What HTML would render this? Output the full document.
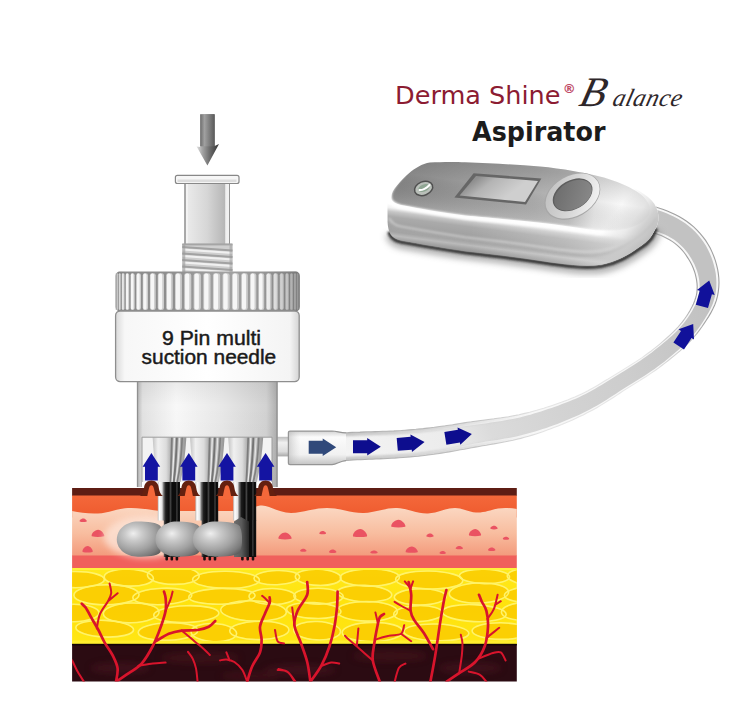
<!DOCTYPE html>
<html><head><meta charset="utf-8"><title>Derma Shine Balance Aspirator</title>
<style>
html,body{margin:0;padding:0;background:#fff;}
body{width:750px;height:722px;overflow:hidden;position:relative;}
svg{display:block;position:absolute;left:0;top:0;}
.t{font-family:"Liberation Sans",sans-serif;}
#bal{position:absolute;left:577.6px;top:66.6px;margin:0;font:italic 25px/50px "Liberation Serif",serif;color:#2e272a;white-space:nowrap;letter-spacing:0.45px;transform-origin:0 38px;transform:skewX(-14deg);z-index:2;}
#bal::first-letter{font-size:42px;letter-spacing:8px;}
</style></head><body>
<svg width="750" height="722" viewBox="0 0 750 722">
<defs>
<linearGradient id="gDermis" x1="0" y1="0" x2="0" y2="1"><stop offset="0" stop-color="#fbd9c4"/><stop offset="0.55" stop-color="#f8bd9f"/><stop offset="1" stop-color="#f39a7c"/></linearGradient>
<linearGradient id="gOrange" x1="0" y1="0" x2="0" y2="1"><stop offset="0" stop-color="#f4683a"/><stop offset="1" stop-color="#ee5a2e"/></linearGradient>
<linearGradient id="gYellow" x1="0" y1="0" x2="0" y2="1"><stop offset="0" stop-color="#ffe91c"/><stop offset="0.5" stop-color="#ffe20c"/><stop offset="1" stop-color="#ffe614"/></linearGradient>
<clipPath id="cSkin"><rect x="72.1" y="488" width="444.7" height="193.4"/></clipPath>
<clipPath id="cFat"><rect x="72" y="568" width="445" height="73"/></clipPath>
<linearGradient id="gArrowDn" x1="0" y1="0" x2="1" y2="0"><stop offset="0" stop-color="#e2e2e2"/><stop offset="0.25" stop-color="#a6a6a6"/><stop offset="0.6" stop-color="#6a6a6a"/><stop offset="1" stop-color="#363636"/></linearGradient>
<linearGradient id="gArrowSh" x1="0" y1="0" x2="1" y2="0"><stop offset="0" stop-color="#6e6e6e"/><stop offset="0.3" stop-color="#a0a0a0"/><stop offset="1" stop-color="#5a5a5a"/></linearGradient>
<linearGradient id="gNeck" x1="0" y1="0" x2="1" y2="0"><stop offset="0" stop-color="#959595"/><stop offset="0.028" stop-color="#959595"/><stop offset="0.03" stop-color="#f4f4f4"/><stop offset="0.075" stop-color="#f2f2f2"/><stop offset="0.09" stop-color="#e9e9e9"/><stop offset="0.5" stop-color="#d6d6d6"/><stop offset="0.89" stop-color="#b6b6b6"/><stop offset="0.905" stop-color="#efefef"/><stop offset="0.968" stop-color="#f2f2f2"/><stop offset="0.972" stop-color="#959595"/><stop offset="1" stop-color="#959595"/></linearGradient>
<linearGradient id="gBody" x1="0" y1="0" x2="1" y2="0"><stop offset="0" stop-color="#b6b6b6"/><stop offset="0.04" stop-color="#e2e2e2"/><stop offset="0.28" stop-color="#f8f8f8"/><stop offset="0.6" stop-color="#e8e8e8"/><stop offset="0.92" stop-color="#d2d2d2"/><stop offset="1" stop-color="#adadad"/></linearGradient>
<linearGradient id="gBodyV" x1="0" y1="0" x2="0" y2="1"><stop offset="0" stop-color="#000" stop-opacity="0.06"/><stop offset="0.25" stop-color="#000" stop-opacity="0"/><stop offset="1" stop-color="#000" stop-opacity="0.03"/></linearGradient>
<linearGradient id="gLabel" x1="0" y1="0" x2="1" y2="0"><stop offset="0" stop-color="#d9d9d9"/><stop offset="0.05" stop-color="#f7f7f7"/><stop offset="0.5" stop-color="#ffffff"/><stop offset="0.95" stop-color="#f4f4f4"/><stop offset="1" stop-color="#d4d4d4"/></linearGradient>
<linearGradient id="gKnurl" x1="0" y1="0" x2="1" y2="0"><stop offset="0" stop-color="#8a8a8a"/><stop offset="0.3" stop-color="#8f8f8f"/><stop offset="0.6" stop-color="#a2a2a2"/><stop offset="1" stop-color="#8a8a8a"/></linearGradient>
<linearGradient id="gSleeve" x1="0" y1="0" x2="1" y2="0"><stop offset="0" stop-color="#c4c4c4"/><stop offset="0.16" stop-color="#f0f0f0"/><stop offset="0.4" stop-color="#dcdcdc"/><stop offset="0.55" stop-color="#adadad"/><stop offset="0.75" stop-color="#bebebe"/><stop offset="1" stop-color="#949494"/></linearGradient>
<linearGradient id="gPin" x1="0" y1="0" x2="1" y2="0"><stop offset="0" stop-color="#b8b8b8"/><stop offset="0.07" stop-color="#ffffff"/><stop offset="0.19" stop-color="#e4e4e4"/><stop offset="0.27" stop-color="#6a6a6a"/><stop offset="0.36" stop-color="#1c1c1c"/><stop offset="0.5" stop-color="#0c0c0c"/><stop offset="0.58" stop-color="#444444"/><stop offset="0.64" stop-color="#0c0c0c"/><stop offset="0.8" stop-color="#0c0c0c"/><stop offset="0.86" stop-color="#404040"/><stop offset="0.92" stop-color="#0a0a0a"/><stop offset="1" stop-color="#141414"/></linearGradient>
<radialGradient id="gBulb" cx="0.4" cy="0.38" r="0.75" fx="0.36" fy="0.34"><stop offset="0" stop-color="#efefef"/><stop offset="0.25" stop-color="#cbcbcb"/><stop offset="0.6" stop-color="#a2a2a2"/><stop offset="0.85" stop-color="#7c7c7c"/><stop offset="1" stop-color="#5a5a5a"/></radialGradient>
<linearGradient id="gBulbR" x1="0" y1="0" x2="1" y2="0"><stop offset="0" stop-color="#6e6e6e"/><stop offset="0.5" stop-color="#5a5a5a"/><stop offset="1" stop-color="#262626"/></linearGradient>
<linearGradient id="gTube" gradientUnits="userSpaceOnUse" x1="343" y1="446" x2="700" y2="300"><stop offset="0" stop-color="#f3f3f3"/><stop offset="0.25" stop-color="#ececec"/><stop offset="0.37" stop-color="#dbdbdb"/><stop offset="0.55" stop-color="#d3d3d3"/><stop offset="0.75" stop-color="#cdcdcd"/><stop offset="1" stop-color="#c2c2c2"/></linearGradient>
<linearGradient id="gTubeEdge" gradientUnits="userSpaceOnUse" x1="343" y1="446" x2="700" y2="300"><stop offset="0" stop-color="#b4b4b4"/><stop offset="0.35" stop-color="#c8c8c8"/><stop offset="0.5" stop-color="#e4e4e4"/><stop offset="0.8" stop-color="#e6e6e6"/><stop offset="0.92" stop-color="#c8c8c8"/><stop offset="1" stop-color="#a0a0a0"/></linearGradient>
<linearGradient id="gCap" x1="0" y1="0" x2="0" y2="1"><stop offset="0" stop-color="#d2d2d2"/><stop offset="0.18" stop-color="#fbfbfb"/><stop offset="0.7" stop-color="#f1f1f1"/><stop offset="1" stop-color="#c4c4c4"/></linearGradient>
<linearGradient id="gStub" x1="0" y1="0" x2="0" y2="1"><stop offset="0" stop-color="#bdbdbd"/><stop offset="0.3" stop-color="#f0f0f0"/><stop offset="0.75" stop-color="#dcdcdc"/><stop offset="1" stop-color="#a8a8a8"/></linearGradient>
<filter id="fBlur2" x="-20%" y="-50%" width="140%" height="200%"><feGaussianBlur stdDeviation="1.6"/></filter>
<filter id="fBlur1" x="-20%" y="-50%" width="140%" height="200%"><feGaussianBlur stdDeviation="0.8"/></filter>
<filter id="fBlur3" x="-20%" y="-20%" width="140%" height="140%"><feGaussianBlur stdDeviation="3"/></filter>
<linearGradient id="gDevBody" gradientUnits="userSpaceOnUse" x1="466" y1="213.3" x2="461" y2="252.3"><stop offset="0" stop-color="#ffffff"/><stop offset="0.1" stop-color="#f2f2f2"/><stop offset="0.2" stop-color="#c6c6c6"/><stop offset="0.33" stop-color="#aaaaaa"/><stop offset="0.55" stop-color="#a1a1a1"/><stop offset="0.7" stop-color="#a3a3a3"/><stop offset="0.8" stop-color="#bababa"/><stop offset="0.88" stop-color="#a5a5a5"/><stop offset="1" stop-color="#8e8e8e"/></linearGradient>
<linearGradient id="gDevFace" gradientUnits="userSpaceOnUse" x1="400" y1="180" x2="622" y2="206"><stop offset="0" stop-color="#858585"/><stop offset="0.3" stop-color="#9a9a9a"/><stop offset="0.6" stop-color="#adadad"/><stop offset="0.77" stop-color="#bcbcbc"/><stop offset="0.88" stop-color="#e8e8e8"/><stop offset="1" stop-color="#f8f8f8"/></linearGradient>
<linearGradient id="gDevFaceV" gradientUnits="userSpaceOnUse" x1="470" y1="160" x2="462" y2="215"><stop offset="0" stop-color="#000" stop-opacity="0.12"/><stop offset="0.4" stop-color="#000" stop-opacity="0"/><stop offset="1" stop-color="#fff" stop-opacity="0.18"/></linearGradient>
<linearGradient id="gDevRight" gradientUnits="userSpaceOnUse" x1="470" y1="230" x2="660" y2="230"><stop offset="0" stop-color="#fff" stop-opacity="0"/><stop offset="0.5" stop-color="#fff" stop-opacity="0.22"/><stop offset="0.85" stop-color="#fff" stop-opacity="0.5"/><stop offset="1" stop-color="#fff" stop-opacity="0.45"/></linearGradient>
<linearGradient id="gScreen" gradientUnits="userSpaceOnUse" x1="480" y1="176" x2="500" y2="202"><stop offset="0" stop-color="#8f8f8f"/><stop offset="0.35" stop-color="#b4b4b4"/><stop offset="1" stop-color="#cfcfcf"/></linearGradient>
<linearGradient id="gBtnRing" gradientUnits="userSpaceOnUse" x1="552" y1="176" x2="592" y2="216"><stop offset="0" stop-color="#c0c0c0"/><stop offset="0.5" stop-color="#d6d6d6"/><stop offset="1" stop-color="#f4f4f4"/></linearGradient>
<linearGradient id="gBtnIn" gradientUnits="userSpaceOnUse" x1="560" y1="180" x2="588" y2="210"><stop offset="0" stop-color="#6c6c6c"/><stop offset="1" stop-color="#8a8a8a"/></linearGradient>
<radialGradient id="gCell" cx="0.5" cy="0.5" r="0.6"><stop offset="0" stop-color="#f9c400"/><stop offset="0.7" stop-color="#f8c600"/><stop offset="1" stop-color="#fbd000"/></radialGradient>
<clipPath id="cTubeOuter"><path d="M334.1,460.9 L338.2,460.8 L342.2,460.7 L346.1,460.5 L349.9,460.3 L353.6,460.0 L357.3,459.8 L361.0,459.7 L364.8,459.5 L368.6,459.3 L372.3,459.2 L376.1,459.0 L379.9,458.9 L383.7,458.7 L387.6,458.5 L391.4,458.3 L395.3,458.1 L399.2,457.8 L403.0,457.5 L406.9,457.2 L410.8,456.9 L414.7,456.5 L418.5,456.2 L422.4,455.7 L426.3,455.3 L430.1,454.8 L434.0,454.3 L437.8,453.7 L441.7,453.1 L445.5,452.5 L449.3,451.9 L453.1,451.2 L456.9,450.5 L460.6,449.8 L464.4,449.2 L468.1,448.5 L471.8,447.8 L475.5,447.1 L479.1,446.5 L482.8,445.8 L486.5,445.2 L490.2,444.5 L494.0,443.9 L497.8,443.2 L501.6,442.5 L505.4,441.8 L509.2,441.0 L513.1,440.2 L516.9,439.3 L520.8,438.4 L524.6,437.3 L528.5,436.2 L532.2,435.1 L536.0,433.9 L539.7,432.7 L543.5,431.4 L547.2,430.1 L550.8,428.7 L554.5,427.3 L558.1,425.9 L561.7,424.5 L565.3,423.0 L568.9,421.5 L572.5,419.9 L576.1,418.3 L579.6,416.6 L583.2,414.9 L586.7,413.1 L590.2,411.3 L593.7,409.4 L597.2,407.4 L600.6,405.4 L603.9,403.4 L607.2,401.3 L610.5,399.2 L613.7,397.2 L616.9,395.1 L620.1,393.0 L623.2,390.9 L626.4,388.9 L629.6,386.9 L632.8,384.9 L636.0,382.9 L639.3,380.9 L642.5,378.8 L645.8,376.7 L649.0,374.6 L652.3,372.4 L655.5,370.2 L658.7,367.9 L661.8,365.5 L664.9,363.1 L668.0,360.7 L671.0,358.3 L674.0,355.8 L677.0,353.3 L680.0,350.8 L683.0,348.1 L685.9,345.4 L688.8,342.5 L691.6,339.6 L694.4,336.5 L697.0,333.4 L699.5,330.1 L701.9,326.8 L704.2,323.4 L706.4,320.0 L708.6,316.6 L710.8,312.9 L712.8,309.1 L714.7,305.0 L716.3,300.7 L717.5,296.2 L718.3,291.6 L718.8,287.0 L719.0,282.5 L718.8,277.9 L718.3,273.4 L717.6,269.0 L716.5,264.6 L715.3,260.4 L713.8,256.2 L712.1,252.1 L710.2,248.1 L708.0,244.2 L705.6,240.4 L702.9,236.8 L700.0,233.4 L697.0,230.1 L693.7,226.9 L690.2,224.0 L686.6,221.3 L682.8,218.8 L679.0,216.6 L675.1,214.5 L671.2,212.7 L667.3,211.1 L663.4,209.6 L659.5,208.2 L655.7,207.0 L648.3,231.0 L651.7,232.1 L654.9,233.2 L658.1,234.4 L661.2,235.6 L664.2,237.0 L667.1,238.4 L669.9,240.0 L672.5,241.6 L674.9,243.4 L677.3,245.3 L679.5,247.4 L681.7,249.7 L683.7,252.0 L685.6,254.5 L687.3,257.1 L689.0,259.7 L690.6,262.5 L692.0,265.3 L693.3,268.2 L694.4,271.2 L695.3,274.2 L696.0,277.2 L696.6,280.2 L697.0,283.3 L697.2,286.3 L697.1,289.3 L696.9,292.3 L696.4,295.2 L695.6,298.0 L694.6,301.0 L693.4,304.0 L691.9,307.1 L690.2,310.2 L688.4,313.2 L686.5,316.2 L684.5,319.0 L682.4,321.8 L680.2,324.5 L678.0,327.1 L675.6,329.6 L673.1,332.1 L670.5,334.6 L667.9,337.0 L665.1,339.5 L662.3,341.9 L659.5,344.3 L656.7,346.6 L653.8,348.9 L650.9,351.2 L648.0,353.3 L645.0,355.5 L642.1,357.6 L639.0,359.6 L636.0,361.6 L632.8,363.6 L629.7,365.6 L626.5,367.6 L623.3,369.6 L620.1,371.6 L616.8,373.6 L613.6,375.6 L610.3,377.6 L607.1,379.6 L603.8,381.5 L600.6,383.5 L597.4,385.4 L594.3,387.2 L591.1,389.0 L587.9,390.8 L584.7,392.4 L581.5,394.0 L578.2,395.5 L574.9,397.0 L571.6,398.3 L568.2,399.7 L564.8,401.0 L561.3,402.3 L557.8,403.5 L554.3,404.7 L550.8,405.9 L547.3,407.1 L543.8,408.2 L540.2,409.2 L536.7,410.3 L533.2,411.2 L529.7,412.2 L526.1,413.1 L522.6,413.9 L519.1,414.7 L515.6,415.4 L512.0,416.0 L508.5,416.7 L504.9,417.2 L501.3,417.8 L497.6,418.3 L494.0,418.8 L490.2,419.2 L486.5,419.7 L482.7,420.2 L478.9,420.7 L475.1,421.2 L471.3,421.8 L467.5,422.3 L463.8,422.9 L460.0,423.5 L456.3,424.1 L452.6,424.7 L448.8,425.2 L445.2,425.8 L441.5,426.3 L437.8,426.8 L434.2,427.3 L430.5,427.7 L426.9,428.1 L423.2,428.6 L419.5,428.9 L415.9,429.3 L412.2,429.6 L408.5,429.9 L404.8,430.2 L401.2,430.5 L397.5,430.7 L393.8,430.9 L390.1,431.0 L386.4,431.2 L382.6,431.3 L378.9,431.5 L375.1,431.6 L371.3,431.7 L367.6,431.8 L363.7,431.9 L359.9,432.1 L356.1,432.2 L352.2,432.4 L348.4,432.6 L344.6,432.7 L341.0,432.9 L337.4,433.0 L333.9,433.1 Z"/></clipPath>
<linearGradient id="gTubeShade" gradientUnits="userSpaceOnUse" x1="343" y1="446" x2="530" y2="420"><stop offset="0" stop-color="#9a9a9a" stop-opacity="0.55"/><stop offset="0.6" stop-color="#a8a8a8" stop-opacity="0.35"/><stop offset="1" stop-color="#a8a8a8" stop-opacity="0"/></linearGradient>
<linearGradient id="gKnurlSh" x1="0" y1="0" x2="1" y2="0"><stop offset="0" stop-color="#777" stop-opacity="0.35"/><stop offset="0.06" stop-color="#777" stop-opacity="0"/><stop offset="0.8" stop-color="#777" stop-opacity="0"/><stop offset="0.93" stop-color="#777" stop-opacity="0.4"/><stop offset="1" stop-color="#707070" stop-opacity="0.75"/></linearGradient>
<linearGradient id="gDevEnd" gradientUnits="userSpaceOnUse" x1="626" y1="198" x2="664" y2="226"><stop offset="0" stop-color="#c6c6c6" stop-opacity="0"/><stop offset="0.4" stop-color="#cccccc" stop-opacity="0.4"/><stop offset="0.65" stop-color="#c8c8c8" stop-opacity="0.85"/><stop offset="1" stop-color="#b6b6b6" stop-opacity="0.95"/></linearGradient>
<linearGradient id="gPinLow" x1="0" y1="0" x2="1" y2="0"><stop offset="0" stop-color="#5a5a5a"/><stop offset="0.14" stop-color="#161616"/><stop offset="0.32" stop-color="#0c0c0c"/><stop offset="0.42" stop-color="#444444"/><stop offset="0.5" stop-color="#0c0c0c"/><stop offset="0.72" stop-color="#0c0c0c"/><stop offset="0.8" stop-color="#404040"/><stop offset="0.88" stop-color="#0a0a0a"/><stop offset="1" stop-color="#141414"/></linearGradient>
<linearGradient id="gCapL" x1="0" y1="0" x2="1" y2="0"><stop offset="0" stop-color="#b0b0b0" stop-opacity="0.55"/><stop offset="1" stop-color="#d0d0d0" stop-opacity="0"/></linearGradient>
<!--DEFS-->
</defs>
<rect width="750" height="722" fill="#fff"/>
<g id="logo">
<text x="395" y="104" font-family="'DejaVu Sans','Liberation Sans',sans-serif" font-size="25" fill="#8c1c32" textLength="165.5" lengthAdjust="spacingAndGlyphs">Derma Shine</text>
<text x="562.8" y="93.2" font-family="'DejaVu Sans','Liberation Sans',sans-serif" font-size="13" font-weight="bold" fill="#c04a66">®</text>
<text x="472" y="141" font-family="'DejaVu Sans','Liberation Sans',sans-serif" font-weight="bold" font-size="26.6" fill="#1c1c1c" textLength="133.5" lengthAdjust="spacingAndGlyphs">Aspirator</text>
</g>
<!--LOGO-->
<g id="tube">
<path d="M334.1,460.9 L338.2,460.8 L342.2,460.7 L346.1,460.5 L349.9,460.3 L353.6,460.0 L357.3,459.8 L361.0,459.7 L364.8,459.5 L368.6,459.3 L372.3,459.2 L376.1,459.0 L379.9,458.9 L383.7,458.7 L387.6,458.5 L391.4,458.3 L395.3,458.1 L399.2,457.8 L403.0,457.5 L406.9,457.2 L410.8,456.9 L414.7,456.5 L418.5,456.2 L422.4,455.7 L426.3,455.3 L430.1,454.8 L434.0,454.3 L437.8,453.7 L441.7,453.1 L445.5,452.5 L449.3,451.9 L453.1,451.2 L456.9,450.5 L460.6,449.8 L464.4,449.2 L468.1,448.5 L471.8,447.8 L475.5,447.1 L479.1,446.5 L482.8,445.8 L486.5,445.2 L490.2,444.5 L494.0,443.9 L497.8,443.2 L501.6,442.5 L505.4,441.8 L509.2,441.0 L513.1,440.2 L516.9,439.3 L520.8,438.4 L524.6,437.3 L528.5,436.2 L532.2,435.1 L536.0,433.9 L539.7,432.7 L543.5,431.4 L547.2,430.1 L550.8,428.7 L554.5,427.3 L558.1,425.9 L561.7,424.5 L565.3,423.0 L568.9,421.5 L572.5,419.9 L576.1,418.3 L579.6,416.6 L583.2,414.9 L586.7,413.1 L590.2,411.3 L593.7,409.4 L597.2,407.4 L600.6,405.4 L603.9,403.4 L607.2,401.3 L610.5,399.2 L613.7,397.2 L616.9,395.1 L620.1,393.0 L623.2,390.9 L626.4,388.9 L629.6,386.9 L632.8,384.9 L636.0,382.9 L639.3,380.9 L642.5,378.8 L645.8,376.7 L649.0,374.6 L652.3,372.4 L655.5,370.2 L658.7,367.9 L661.8,365.5 L664.9,363.1 L668.0,360.7 L671.0,358.3 L674.0,355.8 L677.0,353.3 L680.0,350.8 L683.0,348.1 L685.9,345.4 L688.8,342.5 L691.6,339.6 L694.4,336.5 L697.0,333.4 L699.5,330.1 L701.9,326.8 L704.2,323.4 L706.4,320.0 L708.6,316.6 L710.8,312.9 L712.8,309.1 L714.7,305.0 L716.3,300.7 L717.5,296.2 L718.3,291.6 L718.8,287.0 L719.0,282.5 L718.8,277.9 L718.3,273.4 L717.6,269.0 L716.5,264.6 L715.3,260.4 L713.8,256.2 L712.1,252.1 L710.2,248.1 L708.0,244.2 L705.6,240.4 L702.9,236.8 L700.0,233.4 L697.0,230.1 L693.7,226.9 L690.2,224.0 L686.6,221.3 L682.8,218.8 L679.0,216.6 L675.1,214.5 L671.2,212.7 L667.3,211.1 L663.4,209.6 L659.5,208.2 L655.7,207.0 L648.3,231.0 L651.7,232.1 L654.9,233.2 L658.1,234.4 L661.2,235.6 L664.2,237.0 L667.1,238.4 L669.9,240.0 L672.5,241.6 L674.9,243.4 L677.3,245.3 L679.5,247.4 L681.7,249.7 L683.7,252.0 L685.6,254.5 L687.3,257.1 L689.0,259.7 L690.6,262.5 L692.0,265.3 L693.3,268.2 L694.4,271.2 L695.3,274.2 L696.0,277.2 L696.6,280.2 L697.0,283.3 L697.2,286.3 L697.1,289.3 L696.9,292.3 L696.4,295.2 L695.6,298.0 L694.6,301.0 L693.4,304.0 L691.9,307.1 L690.2,310.2 L688.4,313.2 L686.5,316.2 L684.5,319.0 L682.4,321.8 L680.2,324.5 L678.0,327.1 L675.6,329.6 L673.1,332.1 L670.5,334.6 L667.9,337.0 L665.1,339.5 L662.3,341.9 L659.5,344.3 L656.7,346.6 L653.8,348.9 L650.9,351.2 L648.0,353.3 L645.0,355.5 L642.1,357.6 L639.0,359.6 L636.0,361.6 L632.8,363.6 L629.7,365.6 L626.5,367.6 L623.3,369.6 L620.1,371.6 L616.8,373.6 L613.6,375.6 L610.3,377.6 L607.1,379.6 L603.8,381.5 L600.6,383.5 L597.4,385.4 L594.3,387.2 L591.1,389.0 L587.9,390.8 L584.7,392.4 L581.5,394.0 L578.2,395.5 L574.9,397.0 L571.6,398.3 L568.2,399.7 L564.8,401.0 L561.3,402.3 L557.8,403.5 L554.3,404.7 L550.8,405.9 L547.3,407.1 L543.8,408.2 L540.2,409.2 L536.7,410.3 L533.2,411.2 L529.7,412.2 L526.1,413.1 L522.6,413.9 L519.1,414.7 L515.6,415.4 L512.0,416.0 L508.5,416.7 L504.9,417.2 L501.3,417.8 L497.6,418.3 L494.0,418.8 L490.2,419.2 L486.5,419.7 L482.7,420.2 L478.9,420.7 L475.1,421.2 L471.3,421.8 L467.5,422.3 L463.8,422.9 L460.0,423.5 L456.3,424.1 L452.6,424.7 L448.8,425.2 L445.2,425.8 L441.5,426.3 L437.8,426.8 L434.2,427.3 L430.5,427.7 L426.9,428.1 L423.2,428.6 L419.5,428.9 L415.9,429.3 L412.2,429.6 L408.5,429.9 L404.8,430.2 L401.2,430.5 L397.5,430.7 L393.8,430.9 L390.1,431.0 L386.4,431.2 L382.6,431.3 L378.9,431.5 L375.1,431.6 L371.3,431.7 L367.6,431.8 L363.7,431.9 L359.9,432.1 L356.1,432.2 L352.2,432.4 L348.4,432.6 L344.6,432.7 L341.0,432.9 L337.4,433.0 L333.9,433.1 Z" fill="#f7f7f7"/>
<path d="M334.1,460.9 L338.2,460.8 L342.2,460.7 L346.1,460.5 L349.9,460.3 L353.6,460.0 L357.3,459.8 L361.0,459.7 L364.8,459.5 L368.6,459.3 L372.3,459.2 L376.1,459.0 L379.9,458.9 L383.7,458.7 L387.6,458.5 L391.4,458.3 L395.3,458.1 L399.2,457.8 L403.0,457.5 L406.9,457.2 L410.8,456.9 L414.7,456.5 L418.5,456.2 L422.4,455.7 L426.3,455.3 L430.1,454.8 L434.0,454.3 L437.8,453.7 L441.7,453.1 L445.5,452.5 L449.3,451.9 L453.1,451.2 L456.9,450.5 L460.6,449.8 L464.4,449.2 L468.1,448.5 L471.8,447.8 L475.5,447.1 L479.1,446.5 L482.8,445.8 L486.5,445.2 L490.2,444.5 L494.0,443.9 L497.8,443.2 L501.6,442.5 L505.4,441.8 L509.2,441.0 L513.1,440.2 L516.9,439.3 L520.8,438.4 L524.6,437.3 L528.5,436.2 L532.2,435.1 L536.0,433.9 L539.7,432.7 L543.5,431.4 L547.2,430.1 L550.8,428.7 L554.5,427.3 L558.1,425.9 L561.7,424.5 L565.3,423.0 L568.9,421.5 L572.5,419.9 L576.1,418.3 L579.6,416.6 L583.2,414.9 L586.7,413.1 L590.2,411.3 L593.7,409.4 L597.2,407.4 L600.6,405.4 L603.9,403.4 L607.2,401.3 L610.5,399.2 L613.7,397.2 L616.9,395.1 L620.1,393.0 L623.2,390.9 L626.4,388.9 L629.6,386.9 L632.8,384.9 L636.0,382.9 L639.3,380.9 L642.5,378.8 L645.8,376.7 L649.0,374.6 L652.3,372.4 L655.5,370.2 L658.7,367.9 L661.8,365.5 L664.9,363.1 L668.0,360.7 L671.0,358.3 L674.0,355.8 L677.0,353.3 L680.0,350.8 L683.0,348.1 L685.9,345.4 L688.8,342.5 L691.6,339.6 L694.4,336.5 L697.0,333.4 L699.5,330.1 L701.9,326.8 L704.2,323.4 L706.4,320.0 L708.6,316.6 L710.8,312.9 L712.8,309.1 L714.7,305.0 L716.3,300.7 L717.5,296.2 L718.3,291.6 L718.8,287.0 L719.0,282.5 L718.8,277.9 L718.3,273.4 L717.6,269.0 L716.5,264.6 L715.3,260.4 L713.8,256.2 L712.1,252.1 L710.2,248.1 L708.0,244.2 L705.6,240.4 L702.9,236.8 L700.0,233.4 L697.0,230.1 L693.7,226.9 L690.2,224.0 L686.6,221.3 L682.8,218.8 L679.0,216.6 L675.1,214.5 L671.2,212.7 L667.3,211.1 L663.4,209.6 L659.5,208.2 L655.7,207.0" fill="none" stroke="url(#gTubeEdge)" stroke-width="1.1"/>
<path d="M333.9,433.1 L337.4,433.0 L341.0,432.9 L344.6,432.7 L348.4,432.6 L352.2,432.4 L356.1,432.2 L359.9,432.1 L363.7,431.9 L367.6,431.8 L371.3,431.7 L375.1,431.6 L378.9,431.5 L382.6,431.3 L386.4,431.2 L390.1,431.0 L393.8,430.9 L397.5,430.7 L401.2,430.5 L404.8,430.2 L408.5,429.9 L412.2,429.6 L415.9,429.3 L419.5,428.9 L423.2,428.6 L426.9,428.1 L430.5,427.7 L434.2,427.3 L437.8,426.8 L441.5,426.3 L445.2,425.8 L448.8,425.2 L452.6,424.7 L456.3,424.1 L460.0,423.5 L463.8,422.9 L467.5,422.3 L471.3,421.8 L475.1,421.2 L478.9,420.7 L482.7,420.2 L486.5,419.7 L490.2,419.2 L494.0,418.8 L497.6,418.3 L501.3,417.8 L504.9,417.2 L508.5,416.7 L512.0,416.0 L515.6,415.4 L519.1,414.7 L522.6,413.9 L526.1,413.1 L529.7,412.2 L533.2,411.2 L536.7,410.3 L540.2,409.2 L543.8,408.2 L547.3,407.1 L550.8,405.9 L554.3,404.7 L557.8,403.5 L561.3,402.3 L564.8,401.0 L568.2,399.7 L571.6,398.3 L574.9,397.0 L578.2,395.5 L581.5,394.0 L584.7,392.4 L587.9,390.8 L591.1,389.0 L594.3,387.2 L597.4,385.4 L600.6,383.5 L603.8,381.5 L607.1,379.6 L610.3,377.6 L613.6,375.6 L616.8,373.6 L620.1,371.6 L623.3,369.6 L626.5,367.6 L629.7,365.6 L632.8,363.6 L636.0,361.6 L639.0,359.6 L642.1,357.6 L645.0,355.5 L648.0,353.3 L650.9,351.2 L653.8,348.9 L656.7,346.6 L659.5,344.3 L662.3,341.9 L665.1,339.5 L667.9,337.0 L670.5,334.6 L673.1,332.1 L675.6,329.6 L678.0,327.1 L680.2,324.5 L682.4,321.8 L684.5,319.0 L686.5,316.2 L688.4,313.2 L690.2,310.2 L691.9,307.1 L693.4,304.0 L694.6,301.0 L695.6,298.0 L696.4,295.2 L696.9,292.3 L697.1,289.3 L697.2,286.3 L697.0,283.3 L696.6,280.2 L696.0,277.2 L695.3,274.2 L694.4,271.2 L693.3,268.2 L692.0,265.3 L690.6,262.5 L689.0,259.7 L687.3,257.1 L685.6,254.5 L683.7,252.0 L681.7,249.7 L679.5,247.4 L677.3,245.3 L674.9,243.4 L672.5,241.6 L669.9,240.0 L667.1,238.4 L664.2,237.0 L661.2,235.6 L658.1,234.4 L654.9,233.2 L651.7,232.1 L648.3,231.0" fill="none" stroke="url(#gTubeEdge)" stroke-width="1.1"/>
<path d="M334.0,458.6 L338.1,458.5 L342.1,458.3 L346.0,458.1 L349.8,457.9 L353.5,457.7 L357.2,457.5 L360.9,457.3 L364.7,457.1 L368.5,456.9 L372.2,456.8 L376.0,456.6 L379.8,456.4 L383.6,456.3 L387.5,456.1 L391.3,455.9 L395.2,455.6 L399.0,455.3 L402.9,455.0 L406.7,454.6 L410.6,454.3 L414.4,453.8 L418.3,453.4 L422.1,452.9 L425.9,452.4 L429.8,451.9 L433.6,451.3 L437.4,450.8 L441.2,450.1 L445.0,449.5 L448.8,448.8 L452.6,448.0 L456.3,447.3 L460.1,446.6 L463.8,445.8 L467.5,445.1 L471.2,444.3 L474.9,443.6 L478.6,442.9 L482.3,442.2 L486.0,441.6 L489.7,441.1 L493.5,440.5 L497.2,439.9 L501.0,439.3 L504.8,438.6 L508.7,437.9 L512.5,437.2 L516.3,436.4 L520.2,435.5 L524.0,434.6 L527.8,433.6 L531.5,432.5 L535.3,431.4 L539.0,430.3 L542.7,429.1 L546.4,427.9 L550.1,426.6 L553.7,425.3 L557.4,423.9 L561.0,422.5 L564.6,421.1 L568.2,419.6 L571.7,418.1 L575.3,416.5 L578.9,414.9 L582.4,413.2 L585.9,411.5 L589.4,409.7 L592.9,407.8 L596.3,405.9 L599.7,403.9 L603.0,401.9 L606.3,399.9 L609.6,397.8 L612.8,395.7 L616.0,393.7 L619.2,391.6 L622.3,389.6 L625.5,387.5 L628.7,385.6 L632.0,383.6 L635.2,381.6 L638.4,379.6 L641.7,377.5 L644.9,375.4 L648.2,373.3 L651.4,371.1 L654.6,368.9 L657.8,366.6 L660.9,364.3 L664.0,361.9 L667.0,359.5 L670.0,357.1 L673.0,354.6 L675.9,352.1 L678.9,349.5 L681.8,346.8 L684.7,344.1 L687.5,341.3 L690.3,338.4 L693.0,335.3 L695.5,332.2 L698.0,329.0 L700.3,325.7 L702.5,322.4 L704.7,319.0 L706.8,315.5 L708.9,312.0 L710.8,308.2 L712.6,304.3 L714.0,300.1 L715.2,295.8 L715.9,291.4 L716.3,287.0 L716.4,282.6 L716.2,278.2 L715.8,273.8 L715.0,269.6 L714.0,265.4 L712.8,261.2 L711.4,257.2 L709.7,253.2 L707.9,249.4 L705.8,245.6 L703.5,241.9 L700.9,238.4 L698.1,235.1 L695.2,231.8 L692.0,228.8 L688.7,225.9 L685.2,223.3 L681.6,220.9 L677.9,218.7 L674.1,216.7 L670.3,214.9 L666.5,213.3 L662.6,211.8 L658.8,210.4 L655.0,209.2 L649.0,228.8 L652.4,229.9 L655.7,231.0 L659.0,232.2 L662.2,233.4 L665.3,234.8 L668.3,236.3 L671.2,237.9 L673.9,239.6 L676.5,241.5 L678.9,243.5 L681.3,245.7 L683.6,248.0 L685.7,250.5 L687.7,253.0 L689.5,255.7 L691.3,258.5 L692.9,261.4 L694.4,264.3 L695.7,267.4 L696.9,270.5 L697.8,273.6 L698.6,276.8 L699.2,280.0 L699.5,283.2 L699.6,286.4 L699.5,289.6 L699.2,292.7 L698.6,295.8 L697.7,298.8 L696.6,301.9 L695.3,305.0 L693.7,308.1 L692.0,311.2 L690.1,314.3 L688.1,317.3 L686.0,320.2 L683.9,323.0 L681.6,325.7 L679.3,328.3 L676.9,330.9 L674.3,333.4 L671.7,335.9 L669.0,338.3 L666.2,340.7 L663.4,343.1 L660.5,345.5 L657.6,347.8 L654.7,350.1 L651.8,352.4 L648.9,354.6 L645.9,356.7 L642.9,358.8 L639.9,360.9 L636.8,362.9 L633.7,365.0 L630.5,367.0 L627.4,369.0 L624.2,371.0 L620.9,373.0 L617.7,375.0 L614.4,376.9 L611.2,379.0 L607.9,381.0 L604.7,382.9 L601.5,384.9 L598.3,386.8 L595.2,388.7 L592.0,390.6 L588.8,392.3 L585.6,394.0 L582.3,395.6 L579.0,397.2 L575.7,398.7 L572.3,400.1 L568.9,401.5 L565.5,402.8 L562.0,404.1 L558.6,405.4 L555.0,406.7 L551.5,407.9 L548.0,409.1 L544.5,410.3 L541.0,411.5 L537.5,412.6 L533.9,413.6 L530.4,414.7 L526.9,415.6 L523.3,416.5 L519.8,417.4 L516.2,418.2 L512.7,418.9 L509.1,419.6 L505.5,420.3 L501.8,420.9 L498.2,421.5 L494.5,422.1 L490.8,422.6 L487.0,423.2 L483.3,423.7 L479.5,424.3 L475.7,424.8 L471.9,425.3 L468.1,425.8 L464.3,426.3 L460.6,426.9 L456.8,427.4 L453.1,427.9 L449.4,428.4 L445.7,428.9 L441.9,429.3 L438.3,429.8 L434.6,430.2 L430.9,430.7 L427.2,431.0 L423.5,431.4 L419.8,431.7 L416.1,432.0 L412.4,432.3 L408.7,432.6 L405.0,432.8 L401.3,433.0 L397.6,433.2 L393.9,433.3 L390.2,433.5 L386.5,433.6 L382.7,433.7 L379.0,433.9 L375.2,434.0 L371.4,434.1 L367.6,434.2 L363.8,434.3 L360.0,434.4 L356.2,434.6 L352.3,434.7 L348.5,434.9 L344.7,435.1 L341.1,435.3 L337.5,435.4 L334.0,435.4 Z" fill="url(#gTube)"/>
<g clip-path="url(#cTubeOuter)"><path d="M334.1,460.9 L338.2,460.8 L342.2,460.7 L346.1,460.5 L349.9,460.3 L353.6,460.0 L357.3,459.8 L361.0,459.7 L364.8,459.5 L368.6,459.3 L372.3,459.2 L376.1,459.0 L379.9,458.9 L383.7,458.7 L387.6,458.5 L391.4,458.3 L395.3,458.1 L399.2,457.8 L403.0,457.5 L406.9,457.2 L410.8,456.9 L414.7,456.5 L418.5,456.2 L422.4,455.7 L426.3,455.3 L430.1,454.8 L434.0,454.3 L437.8,453.7 L441.7,453.1 L445.5,452.5 L449.3,451.9 L453.1,451.2 L456.9,450.5 L460.6,449.8 L464.4,449.2 L468.1,448.5 L471.8,447.8 L475.5,447.1 L479.1,446.5 L482.8,445.8 L486.5,445.2 L490.2,444.5 L494.0,443.9 L497.8,443.2 L501.6,442.5 L505.4,441.8 L509.2,441.0 L513.1,440.2 L516.9,439.3 L520.8,438.4 L524.6,437.3 L528.5,436.2 L532.2,435.1 L536.0,433.9 L539.7,432.7 L543.5,431.4 L547.2,430.1 L550.8,428.7 L554.5,427.3 L558.1,425.9 L561.7,424.5 L565.3,423.0 L568.9,421.5 L572.5,419.9 L576.1,418.3 L579.6,416.6 L583.2,414.9 L586.7,413.1 L590.2,411.3 L593.7,409.4 L597.2,407.4 L600.6,405.4 L603.9,403.4 L607.2,401.3 L610.5,399.2 L613.7,397.2 L616.9,395.1 L620.1,393.0 L623.2,390.9 L626.4,388.9 L629.6,386.9 L632.8,384.9 L636.0,382.9 L639.3,380.9 L642.5,378.8 L645.8,376.7 L649.0,374.6 L652.3,372.4 L655.5,370.2 L658.7,367.9 L661.8,365.5 L664.9,363.1 L668.0,360.7 L671.0,358.3 L674.0,355.8 L677.0,353.3 L680.0,350.8 L683.0,348.1 L685.9,345.4 L688.8,342.5 L691.6,339.6 L694.4,336.5 L697.0,333.4 L699.5,330.1 L701.9,326.8 L704.2,323.4 L706.4,320.0 L708.6,316.6 L710.8,312.9 L712.8,309.1 L714.7,305.0 L716.3,300.7 L717.5,296.2 L718.3,291.6 L718.8,287.0 L719.0,282.5 L718.8,277.9 L718.3,273.4 L717.6,269.0 L716.5,264.6 L715.3,260.4 L713.8,256.2 L712.1,252.1 L710.2,248.1 L708.0,244.2 L705.6,240.4 L702.9,236.8 L700.0,233.4 L697.0,230.1 L693.7,226.9 L690.2,224.0 L686.6,221.3 L682.8,218.8 L679.0,216.6 L675.1,214.5 L671.2,212.7 L667.3,211.1 L663.4,209.6 L659.5,208.2 L655.7,207.0" fill="none" stroke="url(#gTubeShade)" stroke-width="7" filter="url(#fBlur1)"/><path d="M333.9,433.1 L337.4,433.0 L341.0,432.9 L344.6,432.7 L348.4,432.6 L352.2,432.4 L356.1,432.2 L359.9,432.1 L363.7,431.9 L367.6,431.8 L371.3,431.7 L375.1,431.6 L378.9,431.5 L382.6,431.3 L386.4,431.2 L390.1,431.0 L393.8,430.9 L397.5,430.7 L401.2,430.5 L404.8,430.2 L408.5,429.9 L412.2,429.6 L415.9,429.3 L419.5,428.9 L423.2,428.6 L426.9,428.1 L430.5,427.7 L434.2,427.3 L437.8,426.8 L441.5,426.3 L445.2,425.8 L448.8,425.2 L452.6,424.7 L456.3,424.1 L460.0,423.5 L463.8,422.9 L467.5,422.3 L471.3,421.8 L475.1,421.2 L478.9,420.7 L482.7,420.2 L486.5,419.7 L490.2,419.2 L494.0,418.8 L497.6,418.3 L501.3,417.8 L504.9,417.2 L508.5,416.7 L512.0,416.0 L515.6,415.4 L519.1,414.7 L522.6,413.9 L526.1,413.1 L529.7,412.2 L533.2,411.2 L536.7,410.3 L540.2,409.2 L543.8,408.2 L547.3,407.1 L550.8,405.9 L554.3,404.7 L557.8,403.5 L561.3,402.3 L564.8,401.0 L568.2,399.7 L571.6,398.3 L574.9,397.0 L578.2,395.5 L581.5,394.0 L584.7,392.4 L587.9,390.8 L591.1,389.0 L594.3,387.2 L597.4,385.4 L600.6,383.5 L603.8,381.5 L607.1,379.6 L610.3,377.6 L613.6,375.6 L616.8,373.6 L620.1,371.6 L623.3,369.6 L626.5,367.6 L629.7,365.6 L632.8,363.6 L636.0,361.6 L639.0,359.6 L642.1,357.6 L645.0,355.5 L648.0,353.3 L650.9,351.2 L653.8,348.9 L656.7,346.6 L659.5,344.3 L662.3,341.9 L665.1,339.5 L667.9,337.0 L670.5,334.6 L673.1,332.1 L675.6,329.6 L678.0,327.1 L680.2,324.5 L682.4,321.8 L684.5,319.0 L686.5,316.2 L688.4,313.2 L690.2,310.2 L691.9,307.1 L693.4,304.0 L694.6,301.0 L695.6,298.0 L696.4,295.2 L696.9,292.3 L697.1,289.3 L697.2,286.3 L697.0,283.3 L696.6,280.2 L696.0,277.2 L695.3,274.2 L694.4,271.2 L693.3,268.2 L692.0,265.3 L690.6,262.5 L689.0,259.7 L687.3,257.1 L685.6,254.5 L683.7,252.0 L681.7,249.7 L679.5,247.4 L677.3,245.3 L674.9,243.4 L672.5,241.6 L669.9,240.0 L667.1,238.4 L664.2,237.0 L661.2,235.6 L658.1,234.4 L654.9,233.2 L651.7,232.1 L648.3,231.0" fill="none" stroke="url(#gTubeShade)" stroke-width="7" filter="url(#fBlur1)"/></g>
<rect x="276" y="436.8" width="13.5" height="19.6" fill="url(#gStub)"/>
<path d="M290,431 L332,431 C337,431.2 340,432.8 346,433 L346,460.6 C340,460.9 337,464.4 332,464.7 L290,464.7 Q288.4,464.7 288.4,463.3 L288.4,432.4 Q288.4,431 290,431 Z" fill="url(#gCap)"/>
<rect x="288.4" y="431.6" width="12" height="32.6" fill="url(#gCapL)"/>
<path d="M346,433 C340,432.8 337,431.2 332,431 L290,431 Q288.4,431 288.4,432.4 L288.4,463.3 Q288.4,464.7 290,464.7 L332,464.7 C337,464.4 340,460.9 346,460.6" fill="none" stroke="#959595" stroke-width="1.25"/>
<path d="M308.7,440.8 L322.7,440.8 L322.7,438.5 L336.2,447.3 L322.7,456.1 L322.7,453.8 L308.7,453.8 Z" fill="#30497a"/>
<path d="M353,440.2 L367.2,440.2 L367.2,437.9 L380.8,446.7 L367.2,455.5 L367.2,453.2 L353,453.2 Z" fill="#0d0d8e"/>
<path d="M397.2,436.7 L411.2,436.7 L411.2,434.4 L424.6,443.2 L411.2,452.0 L411.2,449.7 L397.2,449.7 Z" fill="#0d0d8e" transform="rotate(-5 410.9 443.2)"/>
<path d="M445.2,429.7 L458.9,429.7 L458.9,427.4 L472,436.2 L458.9,445.0 L458.9,442.7 L445.2,442.7 Z" fill="#0d0d8e" transform="rotate(-9 458.6 436.2)"/>
<path d="M684.0,349.4 L691.6,337.9 L694.0,339.5 L693.2,324.0 L678.6,329.3 L681.0,330.9 L673.4,342.4 Z" fill="#11119a"/>
<path d="M708.0,308.1 L711.9,294.2 L714.7,295.0 L709.2,280.5 L697.0,290.0 L699.7,290.8 L695.8,304.7 Z" fill="#11119a"/>
</g>
<g id="device">
<path id="devBottom" d="M656,226 C655,229 653,233.5 651,236.5 C648,240.5 644,243.5 641.5,245 C636,249 630,253 622.3,257 C616,260.2 608,263 601,264.2 C592,265.4 582,265.2 573.3,264.4 C562,263.4 552,261.9 541.3,260.3 C515,256.4 490,253.4 465.3,250.6 C440,247 420,243.4 401,240 C396,239 392.5,237 390.6,234 C389.6,232.4 389,231 388.6,229.5" fill="none" stroke="#666" stroke-width="9" opacity="0.5" filter="url(#fBlur3)" transform="translate(1,4.5)"/>
<path d="M656,226 C655,229 653,233.5 651,236.5 C648,240.5 644,243.5 641.5,245 C636,249 630,253 622.3,257 C616,260.2 608,263 601,264.2 C592,265.4 582,265.2 573.3,264.4 C562,263.4 552,261.9 541.3,260.3 C515,256.4 490,253.4 465.3,250.6 C440,247 420,243.4 401,240 C396,239 392.5,237 390.6,234 C389.6,232.4 389,231 388.6,229.5" fill="none" stroke="#262626" stroke-width="3.4" opacity="0.92" filter="url(#fBlur1)" transform="translate(0.3,2.2)"/>
<path d="M429,161.4 C440,160.6 455,160.7 465,161 C492,161.8 516,163.6 540,165.2 C562,167.2 585,171.5 605.3,176.7 C614,179.2 621,182 626.6,184.6 C636,189 643,193 648,197 C653,201 656.5,206 657.8,212 C659,218 658.8,224 654.3,231 C651,237.5 647,241.5 641.5,245.5 C636,249.5 630,253.8 622.3,257.6 C616,260.8 608,263.6 601,264.8 C592,266 582,265.8 573.3,265 C562,264 552,262.5 541.3,260.9 C515,257 490,254 465.3,251.2 C440,247.6 420,244 401,240.6 C396,239.6 392.5,237.6 390.6,234.6 C388.6,230.6 387.8,227 387.6,222 L387.4,200 C387.6,194 390,189.5 395,184.3 C400,178.8 403,175 407.7,171.3 C414,166.3 421,162.6 429,161.4 Z" fill="url(#gDevBody)"/>
<path d="M429,161.4 C440,160.6 455,160.7 465,161 C492,161.8 516,163.6 540,165.2 C562,167.2 585,171.5 605.3,176.7 C614,179.2 621,182 626.6,184.6 C636,189 643,193 648,197 C653,201 656.5,206 657.8,212 C659,218 658.8,224 654.3,231 C651,237.5 647,241.5 641.5,245.5 C636,249.5 630,253.8 622.3,257.6 C616,260.8 608,263.6 601,264.8 C592,266 582,265.8 573.3,265 C562,264 552,262.5 541.3,260.9 C515,257 490,254 465.3,251.2 C440,247.6 420,244 401,240.6 C396,239.6 392.5,237.6 390.6,234.6 C388.6,230.6 387.8,227 387.6,222 L387.4,200 C387.6,194 390,189.5 395,184.3 C400,178.8 403,175 407.7,171.3 C414,166.3 421,162.6 429,161.4 Z" fill="url(#gDevRight)"/>
<path d="M430,162.6 C441,161.8 455,161.9 465,162.2 C492,163 516,164.8 540,166.4 C562,168.4 585,172.6 604,177.5 C616,181 628,186 636,191 C644,196 650,203 650,210 C650,218.5 640,225.5 626,229 C612,232 598,231 583,228.5 C569,226.5 555,224.5 540,222.8 C515,220.1 490,217.9 465,215.5 C440,212.1 420,208.5 401,204.9 C396,203.8 392.6,202.1 391.6,199.5 C390.6,195 392.6,190.5 396.6,186 C401,180.6 404.6,177 409,173.2 C415,168.4 422,163.8 430,162.6 Z" fill="url(#gDevFace)"/>
<path d="M430,162.6 C441,161.8 455,161.9 465,162.2 C492,163 516,164.8 540,166.4 C562,168.4 585,172.6 604,177.5 C616,181 628,186 636,191 C644,196 650,203 650,210 C650,218.5 640,225.5 626,229 C612,232 598,231 583,228.5 C569,226.5 555,224.5 540,222.8 C515,220.1 490,217.9 465,215.5 C440,212.1 420,208.5 401,204.9 C396,203.8 392.6,202.1 391.6,199.5 C390.6,195 392.6,190.5 396.6,186 C401,180.6 404.6,177 409,173.2 C415,168.4 422,163.8 430,162.6 Z" fill="url(#gDevFaceV)"/>
<!-- rim highlight along front edge of face -->
<path d="M403,174.5 C398,179.5 393.5,185 390.6,191 C389.2,194.6 389.2,198 390.5,200.8 C392.6,203.9 396,205.7 401,206.9 C420,210.5 440,214.1 465,217.5 C490,219.9 515,222.1 540,224.8 C555,226.5 569,228.5 583,230.5 C598,232.9 612,233.9 627,230.9 C640,227.9 650,221.3 654,213.3" fill="none" stroke="#ffffff" stroke-width="4.5" stroke-linecap="round" opacity="0.95" filter="url(#fBlur1)"/>
<!-- seam line on side -->
<path d="M389,222 C391,226 395,229.4 401,230.6 C420,234 440,237.6 465,241.2 C490,244 515,247 541,251 C552,252.6 562,254 573,255 C582,255.8 592,256 601,254.8 C612,253 624,247 634,240 C644,233 652,226 656,218" fill="none" stroke="#a9a9a9" stroke-width="1.4" opacity="0.85" filter="url(#fBlur1)"/>
<path d="M389,218 C391,222 395,225.4 401,226.6 C420,230 440,233.6 465,237.2 C490,240 515,243 541,247 C552,248.6 562,250 573,251 C582,251.8 592,252 601,250.8 C612,249 624,243 634,236" fill="none" stroke="#e6e6e6" stroke-width="2" opacity="0.55" filter="url(#fBlur1)"/>
<path d="M429,161.4 C440,160.6 455,160.7 465,161 C492,161.8 516,163.6 540,165.2 C562,167.2 585,171.5 605.3,176.7 C614,179.2 621,182 626.6,184.6 C636,189 643,193 648,197 C653,201 656.5,206 657.8,212 C659,218 658.8,224 654.3,231 C651,237.5 647,241.5 641.5,245.5 C636,249.5 630,253.8 622.3,257.6 C616,260.8 608,263.6 601,264.8 C592,266 582,265.8 573.3,265 C562,264 552,262.5 541.3,260.9 C515,257 490,254 465.3,251.2 C440,247.6 420,244 401,240.6 C396,239.6 392.5,237.6 390.6,234.6 C388.6,230.6 387.8,227 387.6,222 L387.4,200 C387.6,194 390,189.5 395,184.3 C400,178.8 403,175 407.7,171.3 C414,166.3 421,162.6 429,161.4 Z" fill="url(#gDevEnd)"/>
<!-- screen -->
<path d="M473.6,173.2 L541.4,178.6 L526,204.6 L454.4,197.4 Z" fill="#666666"/>
<path d="M476,176 L538,181 L525,202 L459.6,195.6 Z" fill="url(#gScreen)"/>
<!-- big button -->
<ellipse cx="572.3" cy="196.3" rx="30" ry="21" transform="rotate(-30 572.3 196.3)" fill="#a8a8a8"/>
<ellipse cx="572.6" cy="196" rx="29" ry="20" transform="rotate(-30 572.6 196)" fill="url(#gBtnRing)"/>
<ellipse cx="572.6" cy="194.8" rx="21.4" ry="14.4" transform="rotate(-30 572.6 194.8)" fill="#5e5e5e"/>
<ellipse cx="573" cy="195.2" rx="20.4" ry="13.4" transform="rotate(-30 573 195.2)" fill="url(#gBtnIn)"/>
<!-- small button -->
<ellipse cx="423.6" cy="188.4" rx="9.4" ry="6.8" transform="rotate(-22 423.6 188.4)" fill="#b9bfb9" stroke="#505050" stroke-width="1.5"/>
<ellipse cx="424" cy="188" rx="6" ry="3.6" transform="rotate(-22 424 188)" fill="#8fa693"/>
<path d="M419.5,190 C422,190.4 427,188 429.5,185" fill="none" stroke="#ffffff" stroke-width="2" stroke-linecap="round"/>
</g>
<g id="skin" clip-path="url(#cSkin)">
<rect x="72" y="488" width="445" height="8" fill="#5e1d14"/>
<rect x="72" y="495.5" width="445" height="22" fill="url(#gOrange)"/>
<path d="M72,511 C80,512.5 88,514 98,513.5 C108,513 118,508.5 128,508 C140,507.5 150,510 160,511 L240,511 C250,509 256,505.5 262,505.5 C270,506 280,513 291,513 C304,512.5 314,508 327,508 C340,508 352,513.5 364,513 C376,512.5 386,507.5 397,508 C408,508.5 418,514 428,513.5 C438,513 446,508 455,508 C462,508 468,512 476,512.5 C484,513 490,510 498,508.5 C505,507.5 510,508 517,509 L517,556 L72,556 Z" fill="url(#gDermis)"/>
<rect x="72" y="555.5" width="445" height="13.5" fill="#f0605c"/>
<rect x="72" y="568" width="445" height="76" fill="url(#gYellow)"/>
<rect x="72" y="640.4" width="445" height="4" fill="#fff032" opacity="0.85"/>
<rect x="72" y="644" width="445" height="38" fill="#2b0b12"/>
<g fill="#ea5362">
<path d="M278.5,538.8 C277.7,536.3 281.8,532.6 285.3,532.6 C288.2,532.6 292.3,536.9 291.5,538.8 C287.6,539.6 282.4,539.6 278.5,538.8 Z"/>
<path d="M319.4,533.7 C318.6,532.6 321.1,530.9 322.8,530.9 C324.3,530.9 326.8,532.9 325.9,533.7 C324.0,534.5 321.4,534.5 319.4,533.7 Z"/>
<path d="M353.0,536.4 C352.2,533.4 356.5,529.0 360.3,529.0 C363.5,529.0 367.8,534.2 367.0,536.4 C362.8,537.2 357.2,537.2 353.0,536.4 Z"/>
<path d="M391.3,526.8 C390.5,524.0 394.8,519.8 398.6,519.8 C401.8,519.8 406.1,524.7 405.3,526.8 C401.1,527.6 395.5,527.6 391.3,526.8 Z"/>
<path d="M426.5,536.6 C425.7,535.3 428.2,533.4 430.1,533.4 C431.8,533.4 434.3,535.7 433.5,536.6 C431.4,537.4 428.6,537.4 426.5,536.6 Z"/>
<path d="M469.0,535.6 C468.2,533.0 472.0,529.0 475.2,529.0 C478.0,529.0 481.8,533.6 481.0,535.6 C477.4,536.4 472.6,536.4 469.0,535.6 Z"/>
<path d="M490.5,528.8 C489.7,527.6 492.2,525.8 494.1,525.8 C495.8,525.8 498.3,527.9 497.5,528.8 C495.4,529.6 492.6,529.6 490.5,528.8 Z"/>
<path d="M300.3,551.2 C299.5,550.2 301.8,548.8 303.4,548.8 C304.8,548.8 307.1,550.5 306.3,551.2 C304.5,552.0 302.1,552.0 300.3,551.2 Z"/>
<path d="M329.2,552.4 C328.4,551.3 330.9,549.6 332.8,549.6 C334.4,549.6 337.0,551.6 336.2,552.4 C334.1,553.2 331.3,553.2 329.2,552.4 Z"/>
<path d="M370.5,552.9 C369.7,551.9 372.2,550.5 374.1,550.5 C375.8,550.5 378.3,552.2 377.5,552.9 C375.4,553.7 372.6,553.7 370.5,552.9 Z"/>
<path d="M405.7,552.2 C404.9,549.9 408.7,546.4 411.9,546.4 C414.7,546.4 418.5,550.4 417.7,552.2 C414.1,553.0 409.3,553.0 405.7,552.2 Z"/>
<path d="M439.7,553.5 C438.9,552.5 441.2,551.1 442.8,551.1 C444.2,551.1 446.5,552.8 445.7,553.5 C443.9,554.3 441.5,554.3 439.7,553.5 Z"/>
<path d="M455.8,548.7 C455.0,547.6 457.6,545.9 459.4,545.9 C461.1,545.9 463.6,547.9 462.8,548.7 C460.7,549.5 457.9,549.5 455.8,548.7 Z"/>
<path d="M488.2,550.4 C487.4,549.3 489.9,547.6 491.8,547.6 C493.4,547.6 496.0,549.6 495.2,550.4 C493.1,551.2 490.3,551.2 488.2,550.4 Z"/>
<path d="M79.7,521.5 C78.9,520.3 81.5,518.5 83.3,518.5 C85.0,518.5 87.5,520.6 86.7,521.5 C84.6,522.3 81.8,522.3 79.7,521.5 Z"/>
<path d="M91.7,536.3 C90.9,533.7 94.8,529.7 98.2,529.7 C101.0,529.7 105.0,534.3 104.2,536.3 C100.4,537.1 95.4,537.1 91.7,536.3 Z"/>
<path d="M82.6,551.9 C81.8,549.6 85.1,546.1 87.8,546.1 C90.1,546.1 93.4,550.1 92.6,551.9 C89.6,552.7 85.6,552.7 82.6,551.9 Z"/>
<path d="M281.1,538.0 C280.3,536.4 283.4,534.0 285.8,534.0 C287.9,534.0 290.9,536.8 290.1,538.0 C287.4,538.8 283.8,538.8 281.1,538.0 Z"/>
<path d="M503.0,539.2 C502.2,538.2 504.5,536.8 506.1,536.8 C507.5,536.8 509.8,538.5 509.0,539.2 C507.2,540.0 504.8,540.0 503.0,539.2 Z"/>
</g>
<g clip-path="url(#cFat)">
<g fill="#fbca00" opacity="0.8">
<ellipse cx="75.6" cy="579.6" rx="28.2" ry="7.5" transform="rotate(0.0 75.6 579.6)"/>
<ellipse cx="128.8" cy="577.6" rx="24.0" ry="7.9" transform="rotate(1.8 128.8 577.6)"/>
<ellipse cx="173.3" cy="575.5" rx="25.3" ry="8.3" transform="rotate(1.2 173.3 575.5)"/>
<ellipse cx="226.0" cy="579.8" rx="32.8" ry="8.0" transform="rotate(0.7 226.0 579.8)"/>
<ellipse cx="276.8" cy="577.6" rx="22.2" ry="6.5" transform="rotate(-1.9 276.8 577.6)"/>
<ellipse cx="318.2" cy="577.3" rx="22.3" ry="7.5" transform="rotate(2.1 318.2 577.3)"/>
<ellipse cx="369.8" cy="577.5" rx="29.0" ry="8.0" transform="rotate(-0.3 369.8 577.5)"/>
<ellipse cx="429.2" cy="580.0" rx="33.0" ry="8.4" transform="rotate(1.2 429.2 580.0)"/>
<ellipse cx="484.5" cy="576.4" rx="24.5" ry="6.6" transform="rotate(1.6 484.5 576.4)"/>
<ellipse cx="539.1" cy="576.9" rx="31.3" ry="8.7" transform="rotate(2.1 539.1 576.9)"/>
<ellipse cx="106.5" cy="594.8" rx="32.0" ry="9.4" transform="rotate(-0.6 106.5 594.8)"/>
<ellipse cx="162.3" cy="596.4" rx="28.9" ry="7.6" transform="rotate(-2.5 162.3 596.4)"/>
<ellipse cx="221.9" cy="596.3" rx="32.6" ry="7.3" transform="rotate(-1.5 221.9 596.3)"/>
<ellipse cx="272.3" cy="596.5" rx="22.7" ry="7.4" transform="rotate(0.4 272.3 596.5)"/>
<ellipse cx="318.5" cy="596.2" rx="24.1" ry="7.3" transform="rotate(0.9 318.5 596.2)"/>
<ellipse cx="364.6" cy="593.6" rx="26.6" ry="7.6" transform="rotate(2.8 364.6 593.6)"/>
<ellipse cx="420.2" cy="596.9" rx="25.3" ry="7.5" transform="rotate(-0.6 420.2 596.9)"/>
<ellipse cx="478.9" cy="593.0" rx="29.1" ry="9.4" transform="rotate(-1.7 478.9 593.0)"/>
<ellipse cx="535.5" cy="594.1" rx="30.5" ry="7.7" transform="rotate(-2.6 535.5 594.1)"/>
<ellipse cx="73.7" cy="613.0" rx="24.7" ry="8.1" transform="rotate(-0.3 73.7 613.0)"/>
<ellipse cx="131.2" cy="612.9" rx="27.3" ry="9.3" transform="rotate(-1.9 131.2 612.9)"/>
<ellipse cx="186.3" cy="614.1" rx="32.0" ry="7.8" transform="rotate(-1.9 186.3 614.1)"/>
<ellipse cx="253.5" cy="611.0" rx="32.3" ry="9.5" transform="rotate(2.3 253.5 611.0)"/>
<ellipse cx="313.8" cy="610.5" rx="26.6" ry="7.3" transform="rotate(2.8 313.8 610.5)"/>
<ellipse cx="367.0" cy="611.3" rx="29.8" ry="9.2" transform="rotate(0.6 367.0 611.3)"/>
<ellipse cx="418.2" cy="613.6" rx="23.9" ry="7.4" transform="rotate(-1.6 418.2 613.6)"/>
<ellipse cx="474.2" cy="613.1" rx="31.4" ry="7.9" transform="rotate(2.5 474.2 613.1)"/>
<ellipse cx="524.2" cy="611.3" rx="22.2" ry="8.3" transform="rotate(-2.6 524.2 611.3)"/>
<ellipse cx="104.7" cy="628.7" rx="28.3" ry="7.7" transform="rotate(2.3 104.7 628.7)"/>
<ellipse cx="168.0" cy="631.5" rx="29.2" ry="8.2" transform="rotate(-2.2 168.0 631.5)"/>
<ellipse cx="213.8" cy="632.6" rx="22.2" ry="8.5" transform="rotate(2.8 213.8 632.6)"/>
<ellipse cx="259.3" cy="630.4" rx="29.0" ry="8.6" transform="rotate(-1.1 259.3 630.4)"/>
<ellipse cx="317.1" cy="630.7" rx="22.8" ry="8.6" transform="rotate(2.4 317.1 630.7)"/>
<ellipse cx="372.5" cy="632.0" rx="29.7" ry="9.0" transform="rotate(-0.9 372.5 632.0)"/>
<ellipse cx="436.4" cy="632.4" rx="31.9" ry="7.8" transform="rotate(1.7 436.4 632.4)"/>
<ellipse cx="501.0" cy="631.1" rx="28.3" ry="7.7" transform="rotate(0.5 501.0 631.1)"/>
</g><g fill="none" stroke="#fff36a" stroke-width="1.6">
<ellipse cx="75.6" cy="579.6" rx="28.8" ry="8.1" transform="rotate(0.0 75.6 579.6)"/>
<ellipse cx="128.8" cy="577.6" rx="24.6" ry="8.5" transform="rotate(1.8 128.8 577.6)"/>
<ellipse cx="173.3" cy="575.5" rx="25.9" ry="8.9" transform="rotate(1.2 173.3 575.5)"/>
<ellipse cx="226.0" cy="579.8" rx="33.4" ry="8.6" transform="rotate(0.7 226.0 579.8)"/>
<ellipse cx="276.8" cy="577.6" rx="22.8" ry="7.1" transform="rotate(-1.9 276.8 577.6)"/>
<ellipse cx="318.2" cy="577.3" rx="22.9" ry="8.1" transform="rotate(2.1 318.2 577.3)"/>
<ellipse cx="369.8" cy="577.5" rx="29.6" ry="8.6" transform="rotate(-0.3 369.8 577.5)"/>
<ellipse cx="429.2" cy="580.0" rx="33.6" ry="9.0" transform="rotate(1.2 429.2 580.0)"/>
<ellipse cx="484.5" cy="576.4" rx="25.1" ry="7.2" transform="rotate(1.6 484.5 576.4)"/>
<ellipse cx="539.1" cy="576.9" rx="31.9" ry="9.3" transform="rotate(2.1 539.1 576.9)"/>
<ellipse cx="106.5" cy="594.8" rx="32.6" ry="10.0" transform="rotate(-0.6 106.5 594.8)"/>
<ellipse cx="162.3" cy="596.4" rx="29.5" ry="8.2" transform="rotate(-2.5 162.3 596.4)"/>
<ellipse cx="221.9" cy="596.3" rx="33.2" ry="7.9" transform="rotate(-1.5 221.9 596.3)"/>
<ellipse cx="272.3" cy="596.5" rx="23.3" ry="8.0" transform="rotate(0.4 272.3 596.5)"/>
<ellipse cx="318.5" cy="596.2" rx="24.7" ry="7.9" transform="rotate(0.9 318.5 596.2)"/>
<ellipse cx="364.6" cy="593.6" rx="27.2" ry="8.2" transform="rotate(2.8 364.6 593.6)"/>
<ellipse cx="420.2" cy="596.9" rx="25.9" ry="8.1" transform="rotate(-0.6 420.2 596.9)"/>
<ellipse cx="478.9" cy="593.0" rx="29.7" ry="10.0" transform="rotate(-1.7 478.9 593.0)"/>
<ellipse cx="535.5" cy="594.1" rx="31.1" ry="8.3" transform="rotate(-2.6 535.5 594.1)"/>
<ellipse cx="73.7" cy="613.0" rx="25.3" ry="8.7" transform="rotate(-0.3 73.7 613.0)"/>
<ellipse cx="131.2" cy="612.9" rx="27.9" ry="9.9" transform="rotate(-1.9 131.2 612.9)"/>
<ellipse cx="186.3" cy="614.1" rx="32.6" ry="8.4" transform="rotate(-1.9 186.3 614.1)"/>
<ellipse cx="253.5" cy="611.0" rx="32.9" ry="10.1" transform="rotate(2.3 253.5 611.0)"/>
<ellipse cx="313.8" cy="610.5" rx="27.2" ry="7.9" transform="rotate(2.8 313.8 610.5)"/>
<ellipse cx="367.0" cy="611.3" rx="30.4" ry="9.8" transform="rotate(0.6 367.0 611.3)"/>
<ellipse cx="418.2" cy="613.6" rx="24.5" ry="8.0" transform="rotate(-1.6 418.2 613.6)"/>
<ellipse cx="474.2" cy="613.1" rx="32.0" ry="8.5" transform="rotate(2.5 474.2 613.1)"/>
<ellipse cx="524.2" cy="611.3" rx="22.8" ry="8.9" transform="rotate(-2.6 524.2 611.3)"/>
<ellipse cx="104.7" cy="628.7" rx="28.9" ry="8.3" transform="rotate(2.3 104.7 628.7)"/>
<ellipse cx="168.0" cy="631.5" rx="29.8" ry="8.8" transform="rotate(-2.2 168.0 631.5)"/>
<ellipse cx="213.8" cy="632.6" rx="22.8" ry="9.1" transform="rotate(2.8 213.8 632.6)"/>
<ellipse cx="259.3" cy="630.4" rx="29.6" ry="9.2" transform="rotate(-1.1 259.3 630.4)"/>
<ellipse cx="317.1" cy="630.7" rx="23.4" ry="9.2" transform="rotate(2.4 317.1 630.7)"/>
<ellipse cx="372.5" cy="632.0" rx="30.3" ry="9.6" transform="rotate(-0.9 372.5 632.0)"/>
<ellipse cx="436.4" cy="632.4" rx="32.5" ry="8.4" transform="rotate(1.7 436.4 632.4)"/>
<ellipse cx="501.0" cy="631.1" rx="28.9" ry="8.3" transform="rotate(0.5 501.0 631.1)"/>
</g>
<rect x="72" y="567.6" width="445" height="2.4" fill="#fff23c"/>
</g>
<g filter="url(#fBlur3)" opacity="0.55">
<ellipse cx="120" cy="668" rx="30" ry="6" fill="#4a1620"/><ellipse cx="200" cy="658" rx="40" ry="6" fill="#48141e"/><ellipse cx="300" cy="670" rx="36" ry="6" fill="#4a1620"/><ellipse cx="390" cy="656" rx="38" ry="6" fill="#48141e"/><ellipse cx="470" cy="668" rx="32" ry="6" fill="#4a1620"/><ellipse cx="250" cy="676" rx="30" ry="4" fill="#48141e"/>
</g>
<rect x="72" y="643.8" width="445" height="1.6" fill="#120406"/>
<g fill="none" stroke="#d8142c" stroke-linecap="round" stroke-linejoin="round">
<path stroke-width="2.7" d="M116.0,681.8 C116.3,679.6 118.1,672.8 117.6,668.4 C117.1,664.0 114.9,659.9 112.8,655.6 C110.7,651.3 107.2,647.1 104.8,642.8 C102.4,638.5 100.5,634.0 98.4,630.0 C96.3,626.0 94.1,622.5 92.0,618.8 C89.9,615.1 87.3,610.1 85.6,607.6 C83.9,605.1 82.4,604.4 81.8,603.8 M116.0,681.8 C118.1,680.4 124.5,676.2 128.8,673.2 C133.1,670.2 137.6,668.1 141.6,663.6 C145.6,659.1 149.6,652.1 152.8,646.0 C156.0,639.9 158.7,632.7 160.8,626.8 C162.9,620.9 164.8,615.6 165.6,610.8 C166.4,606.0 165.9,601.2 165.6,598.0 C165.3,594.8 164.3,592.7 164.0,591.6 M247.2,681.8 C248.0,679.3 249.9,671.7 252.0,666.8 C254.1,661.9 258.4,656.9 260.0,652.4 C261.6,647.9 261.6,643.9 261.6,639.6 C261.6,635.3 259.5,631.1 260.0,626.8 C260.5,622.5 263.2,618.0 264.8,614.0 C266.4,610.0 268.8,605.6 269.6,602.8 C270.4,600.0 269.6,598.3 269.6,597.4 M310.4,681.8 C309.9,678.5 308.8,668.5 307.2,662.0 C305.6,655.5 302.9,648.9 300.8,642.8 C298.7,636.7 294.9,630.5 294.4,625.2 C293.9,619.9 295.5,615.9 297.6,610.8 C299.7,605.7 305.6,599.6 307.2,594.8 C308.8,590.0 307.2,584.1 307.2,582.0 M310.4,681.8 C312.3,679.1 318.4,671.2 321.6,665.2 C324.8,659.2 327.5,652.4 329.6,646.0 C331.7,639.6 333.2,633.2 334.4,626.8 C335.6,620.4 336.4,613.5 337.0,607.6 C337.5,601.7 337.5,594.3 337.6,591.6 M379.8,681.8 C378.7,678.3 373.7,666.9 372.8,660.4 C371.9,653.9 373.6,648.7 374.4,642.8 C375.2,636.9 376.7,629.5 377.6,625.2 C378.5,620.9 378.8,619.1 379.8,617.2 C380.9,615.3 383.3,614.5 384.0,614.0 M430.4,681.8 C431.2,677.5 433.6,665.3 435.2,655.6 C436.8,645.9 438.6,632.7 440.0,623.6 C441.4,614.5 442.8,606.8 443.8,601.2 C444.9,595.6 446.0,591.9 446.4,590.0 M446.4,681.8 C448.5,680.4 454.4,676.5 459.2,673.2 C464.0,669.9 470.9,666.5 475.2,662.0 C479.5,657.5 482.7,651.9 484.8,646.0 C486.9,640.1 487.7,632.7 488.0,626.8 C488.3,620.9 487.5,615.1 486.4,610.8 C485.3,606.5 482.8,603.9 481.6,601.2 C480.4,598.5 479.5,595.9 479.0,594.8 M433.0,649.2 C431.5,646.5 427.1,638.0 424.0,633.2 C420.9,628.4 416.6,624.1 414.4,620.4 C412.2,616.7 411.1,615.1 410.6,610.8 C410.0,606.5 411.5,599.6 411.2,594.8 C410.9,590.0 409.1,584.1 408.6,582.0 M156.0,641.2 C158.1,640.0 164.5,635.6 168.8,633.8 C173.1,632.1 176.8,631.3 181.6,630.6 C186.4,630.0 193.1,630.6 197.6,630.0 C202.1,629.4 205.9,628.3 208.8,626.8 C211.7,625.3 214.1,622.0 215.2,621.0"/>
<path stroke-width="2" d="M96.8,628.4 C97.3,626.0 98.1,618.5 100.0,614.0 C101.9,609.5 106.1,604.7 108.0,601.2 C109.9,597.7 110.9,596.1 111.2,593.2 C111.5,590.3 109.9,585.2 109.6,583.6 M108.0,601.2 L117.6,593.2 M72.2,660.4 C73.1,662.3 75.6,668.0 77.6,671.6 C79.6,675.2 82.9,680.1 84.0,681.8 M165.6,610.8 C166.4,608.9 169.2,602.8 170.4,599.6 C171.6,596.4 172.3,592.9 172.6,591.6 M181.6,630.6 C183.7,632.4 190.7,638.1 194.4,641.2 C198.1,644.3 201.4,646.9 204.0,649.2 C206.6,651.5 208.8,654.0 209.8,655.0 M138.4,665.8 C140.8,665.5 148.3,664.1 152.8,663.6 C157.3,663.1 163.5,662.8 165.6,662.6 M197.6,681.8 C197.3,679.6 196.8,672.2 196.0,668.4 C195.2,664.6 194.1,661.6 192.8,658.8 C191.5,656.0 188.8,652.9 188.0,651.8 M269.6,602.8 C268.8,602.0 266.0,599.2 264.8,598.0 C263.6,596.8 262.7,596.1 262.2,595.8 M247.2,681.8 C246.4,679.9 244.5,673.3 242.4,670.0 C240.3,666.7 237.1,663.8 234.4,662.0 C231.7,660.2 228.8,659.7 226.4,659.4 C224.0,659.2 221.1,660.2 220.0,660.4 M229.6,660.4 L226.4,652.4 M277.6,670.0 C279.2,670.3 284.3,669.7 287.2,671.6 C290.1,673.5 293.9,679.6 295.2,681.2 M275.0,630.0 C275.5,631.9 276.1,639.0 277.6,641.2 C279.1,643.4 282.9,643.1 284.0,643.4 M294.4,625.2 L292.2,607.6 M321.6,665.8 C323.2,665.3 328.3,663.0 331.2,662.6 C334.1,662.3 337.9,663.4 339.2,663.6 M278.4,669.0 C280.0,669.6 285.3,670.2 288.0,672.2 C290.7,674.3 293.3,679.7 294.4,681.2 M377.6,622.0 L375.4,612.4 M375.0,639.6 C377.3,639.0 384.5,636.7 388.8,635.8 C393.1,634.8 398.4,635.6 401.0,633.8 C403.5,632.1 403.6,626.6 404.2,625.2 M401.0,633.8 L411.2,641.2 M372.8,660.4 C370.7,658.5 364.0,652.7 360.0,649.2 C356.0,645.7 351.3,641.8 348.8,639.6 C346.3,637.4 345.6,636.4 345.0,635.8 M356.8,646.0 L358.4,628.4 M394.6,681.8 C395.3,679.5 397.2,670.8 399.0,667.8 C400.9,664.7 404.4,664.3 405.4,663.6 M410.6,588.4 L404.8,581.4 M410.6,588.4 L413.1,581.4 M410.6,610.8 C409.1,610.0 404.3,607.5 401.6,606.0 C398.9,604.5 395.7,602.5 394.6,601.8 M487.4,618.8 C488.4,617.2 492.1,613.2 493.8,609.2 C495.5,605.2 497.0,597.2 497.6,594.8 M495.0,605.0 L500.8,601.2 M486.4,638.0 C487.7,636.9 492.3,633.3 494.4,631.6 C496.5,629.9 498.4,628.4 499.2,627.8 M478.4,658.8 C480.8,657.8 489.1,654.1 492.8,653.0 C496.5,652.0 498.7,651.2 500.8,652.4 C502.9,653.6 504.8,659.1 505.6,660.4 M459.2,673.2 C459.6,670.3 461.2,660.7 461.8,655.6 C462.3,650.5 462.6,646.3 462.4,642.8 C462.2,639.3 461.1,636.1 460.8,634.8 M468.8,671.6 C470.7,672.1 477.1,673.1 480.0,674.8 C482.9,676.5 485.3,680.7 486.4,681.8"/>
</g>
<!--SKINDETAIL-->
</g>
<!--SKIN-->
<g id="needle">
<!-- down arrow -->
<path d="M200.2,114.3 L214.6,114.3 L214.6,146 L219,144 L207.4,165.5 L196.6,146.5 L200.2,147 Z" fill="url(#gArrowDn)"/>
<rect x="200.2" y="114.3" width="14.4" height="32" fill="url(#gArrowSh)"/>
<!-- cap / neck / thread -->
<rect x="184.2" y="182" width="45.8" height="62.5" fill="url(#gNeck)"/>
<rect x="175.4" y="175.3" width="63.6" height="8.2" rx="2" fill="#f6f6f6" stroke="#888888" stroke-width="1.2"/>
<rect x="177.5" y="179.5" width="59" height="2.6" fill="#dcdcdc"/>
<g id="thread">
<rect x="182.3" y="244" width="50.2" height="28" fill="#cfcfcf"/>
<path d="M182.3,247 L232.5,250.5 M182.3,253.5 L232.5,257 M182.3,260 L232.5,263.5 M182.3,266.5 L232.5,270" stroke="#a2a2a2" stroke-width="2" fill="none"/>
<path d="M182.3,249.6 L232.5,253.1 M182.3,256.1 L232.5,259.6 M182.3,262.6 L232.5,266.1 M182.3,269 L232.5,272.4" stroke="#f1f1f1" stroke-width="2" fill="none"/>
<rect x="182.3" y="244" width="3" height="28" fill="#9a9a9a" opacity="0.6"/>
<rect x="229.5" y="244" width="3" height="28" fill="#9a9a9a" opacity="0.5"/>
<rect x="182.3" y="243.4" width="50.2" height="2" fill="#a5a5a5"/>
</g>
<!-- knurled ring -->
<rect x="115.4" y="271.6" width="184.6" height="39.6" rx="4.5" fill="url(#gKnurl)"/>
<rect x="115.55" y="273.2" width="0.69" height="36.8" rx="0.35" fill="#cdcdcd"/>
<rect x="115.60" y="273.6" width="0.39" height="36" rx="0.20" fill="#f6f6f6"/>
<rect x="116.60" y="273.2" width="1.44" height="36.8" rx="0.72" fill="#cdcdcd"/>
<rect x="116.75" y="273.6" width="0.84" height="36" rx="0.42" fill="#f6f6f6"/>
<rect x="118.65" y="273.2" width="2.18" height="36.8" rx="1.09" fill="#cdcdcd"/>
<rect x="118.89" y="273.6" width="1.28" height="36" rx="0.64" fill="#f6f6f6"/>
<rect x="121.68" y="273.2" width="2.89" height="36.8" rx="1.44" fill="#cdcdcd"/>
<rect x="122.00" y="273.6" width="1.71" height="36" rx="0.85" fill="#f6f6f6"/>
<rect x="125.64" y="273.2" width="3.57" height="36.8" rx="1.78" fill="#cdcdcd"/>
<rect x="126.05" y="273.6" width="2.12" height="36" rx="1.06" fill="#f6f6f6"/>
<rect x="130.51" y="273.2" width="4.21" height="36.8" rx="2.10" fill="#cdcdcd"/>
<rect x="131.00" y="273.6" width="2.50" height="36" rx="1.25" fill="#f6f6f6"/>
<rect x="136.22" y="273.2" width="4.80" height="36.8" rx="2.20" fill="#cdcdcd"/>
<rect x="136.79" y="273.6" width="2.86" height="36" rx="1.43" fill="#f6f6f6"/>
<rect x="142.72" y="273.2" width="5.34" height="36.8" rx="2.20" fill="#cdcdcd"/>
<rect x="143.35" y="273.6" width="3.19" height="36" rx="1.59" fill="#f6f6f6"/>
<rect x="149.93" y="273.2" width="5.83" height="36.8" rx="2.20" fill="#cdcdcd"/>
<rect x="150.62" y="273.6" width="3.48" height="36" rx="1.74" fill="#f6f6f6"/>
<rect x="157.77" y="273.2" width="6.24" height="36.8" rx="2.20" fill="#cdcdcd"/>
<rect x="158.52" y="273.6" width="3.73" height="36" rx="1.80" fill="#f6f6f6"/>
<rect x="166.16" y="273.2" width="6.59" height="36.8" rx="2.20" fill="#cdcdcd"/>
<rect x="166.95" y="273.6" width="3.95" height="36" rx="1.80" fill="#f6f6f6"/>
<rect x="175.00" y="273.2" width="6.87" height="36.8" rx="2.20" fill="#cdcdcd"/>
<rect x="175.83" y="273.6" width="4.12" height="36" rx="1.80" fill="#f6f6f6"/>
<rect x="184.20" y="273.2" width="7.08" height="36.8" rx="2.20" fill="#cdcdcd"/>
<rect x="185.06" y="273.6" width="4.24" height="36" rx="1.80" fill="#f6f6f6"/>
<rect x="193.66" y="273.2" width="7.20" height="36.8" rx="2.20" fill="#cdcdcd"/>
<rect x="194.54" y="273.6" width="4.32" height="36" rx="1.80" fill="#f6f6f6"/>
<rect x="203.27" y="273.2" width="7.25" height="36.8" rx="2.20" fill="#cdcdcd"/>
<rect x="204.16" y="273.6" width="4.35" height="36" rx="1.80" fill="#f6f6f6"/>
<rect x="212.93" y="273.2" width="7.21" height="36.8" rx="2.20" fill="#cdcdcd"/>
<rect x="213.82" y="273.6" width="4.33" height="36" rx="1.80" fill="#f6f6f6"/>
<rect x="222.54" y="273.2" width="7.10" height="36.8" rx="2.20" fill="#cdcdcd"/>
<rect x="223.41" y="273.6" width="4.27" height="36" rx="1.80" fill="#f6f6f6"/>
<rect x="231.98" y="273.2" width="6.91" height="36.8" rx="2.20" fill="#cdcdcd"/>
<rect x="232.83" y="273.6" width="4.16" height="36" rx="1.80" fill="#f6f6f6"/>
<rect x="241.15" y="273.2" width="6.65" height="36.8" rx="2.20" fill="#cdcdcd"/>
<rect x="241.98" y="273.6" width="4.00" height="36" rx="1.80" fill="#f6f6f6"/>
<rect x="249.96" y="273.2" width="6.31" height="36.8" rx="2.20" fill="#cdcdcd"/>
<rect x="250.75" y="273.6" width="3.80" height="36" rx="1.80" fill="#f6f6f6"/>
<rect x="258.31" y="273.2" width="5.90" height="36.8" rx="2.20" fill="#cdcdcd"/>
<rect x="259.05" y="273.6" width="3.56" height="36" rx="1.78" fill="#f6f6f6"/>
<rect x="266.10" y="273.2" width="5.43" height="36.8" rx="2.20" fill="#cdcdcd"/>
<rect x="266.78" y="273.6" width="3.27" height="36" rx="1.64" fill="#f6f6f6"/>
<rect x="273.25" y="273.2" width="4.90" height="36.8" rx="2.20" fill="#cdcdcd"/>
<rect x="273.87" y="273.6" width="2.96" height="36" rx="1.48" fill="#f6f6f6"/>
<rect x="279.68" y="273.2" width="4.31" height="36.8" rx="2.16" fill="#cdcdcd"/>
<rect x="280.23" y="273.6" width="2.61" height="36" rx="1.30" fill="#f6f6f6"/>
<rect x="285.33" y="273.2" width="3.68" height="36.8" rx="1.84" fill="#cdcdcd"/>
<rect x="285.80" y="273.6" width="2.23" height="36" rx="1.12" fill="#f6f6f6"/>
<rect x="290.12" y="273.2" width="3.01" height="36.8" rx="1.50" fill="#cdcdcd"/>
<rect x="290.52" y="273.6" width="1.83" height="36" rx="0.91" fill="#f6f6f6"/>
<rect x="294.01" y="273.2" width="2.30" height="36.8" rx="1.15" fill="#cdcdcd"/>
<rect x="294.32" y="273.6" width="1.41" height="36" rx="0.70" fill="#f6f6f6"/>
<rect x="296.96" y="273.2" width="1.57" height="36.8" rx="0.78" fill="#cdcdcd"/>
<rect x="297.18" y="273.6" width="0.97" height="36" rx="0.48" fill="#f6f6f6"/>
<rect x="298.93" y="273.2" width="0.82" height="36.8" rx="0.41" fill="#cdcdcd"/>
<rect x="299.06" y="273.6" width="0.52" height="36" rx="0.26" fill="#f6f6f6"/>
<rect x="115.4" y="271.6" width="184.6" height="39.6" rx="4.5" fill="url(#gKnurlSh)"/>
<!-- lower body -->
<rect x="137" y="378" width="140.5" height="109" fill="url(#gBody)"/>
<rect x="137" y="378" width="140.5" height="109" fill="url(#gBodyV)"/>
<path d="M137.5,380 L137.5,487 M277,380 L277,487" stroke="#909090" stroke-width="1.3" fill="none"/>
<!-- label -->
<rect x="115.6" y="311" width="183.6" height="70.6" rx="4.5" fill="url(#gLabel)" stroke="#8e8e8e" stroke-width="1.3"/>
<text class="t" x="162" y="344.7" font-size="20" fill="#1a1a1a" stroke="#1a1a1a" stroke-width="0.45" textLength="99" lengthAdjust="spacingAndGlyphs">9 Pin multi</text>
<text class="t" x="141.6" y="364.4" font-size="20" fill="#1a1a1a" stroke="#1a1a1a" stroke-width="0.45" textLength="134.6" lengthAdjust="spacingAndGlyphs">suction needle</text>
<g id="pins">
<rect x="142" y="437.2" width="130" height="50" fill="#f3f3f3"/>
<path d="M152.6,437.2 L186.4,437.2 Q184.9,462 180.6,482 L157.20000000000002,482 Q154.1,462 152.6,437.2 Z" fill="url(#gSleeve)"/>
<path d="M171.9,437.2 Q171.1,462 170.5,482" stroke="#7c7c7c" stroke-width="1.7" fill="none"/>
<path d="M174.4,437.2 Q173.6,462 172.1,482" stroke="#ececec" stroke-width="1.2" fill="none"/>
<path d="M176.9,437.2 Q176.1,462 173.8,482" stroke="#747474" stroke-width="1.9" fill="none"/>
<path d="M179.6,437.2 Q178.8,462 175.6,482" stroke="#e4e4e4" stroke-width="1.2" fill="none"/>
<path d="M182.2,437.2 Q181.4,462 177.2,482" stroke="#808080" stroke-width="1.7" fill="none"/>
<path d="M190.0,437.2 L224.6,437.2 Q223.1,462 218.79999999999998,482 L194.8,482 Q191.5,462 190.0,437.2 Z" fill="url(#gSleeve)"/>
<path d="M209.7,437.2 Q208.9,462 208.4,482" stroke="#7c7c7c" stroke-width="1.7" fill="none"/>
<path d="M212.3,437.2 Q211.5,462 210.1,482" stroke="#ececec" stroke-width="1.2" fill="none"/>
<path d="M214.9,437.2 Q214.1,462 211.8,482" stroke="#747474" stroke-width="1.9" fill="none"/>
<path d="M217.7,437.2 Q216.9,462 213.6,482" stroke="#e4e4e4" stroke-width="1.2" fill="none"/>
<path d="M220.3,437.2 Q219.5,462 215.3,482" stroke="#808080" stroke-width="1.7" fill="none"/>
<path d="M228.2,437.2 L263.20000000000005,437.2 Q261.7,462 256.8,482 L232.6,482 Q229.7,462 228.2,437.2 Z" fill="url(#gSleeve)"/>
<path d="M248.2,437.2 Q247.4,462 246.3,482" stroke="#7c7c7c" stroke-width="1.7" fill="none"/>
<path d="M250.8,437.2 Q250.0,462 248.0,482" stroke="#ececec" stroke-width="1.2" fill="none"/>
<path d="M253.4,437.2 Q252.6,462 249.8,482" stroke="#747474" stroke-width="1.9" fill="none"/>
<path d="M256.2,437.2 Q255.4,462 251.6,482" stroke="#e4e4e4" stroke-width="1.2" fill="none"/>
<path d="M258.8,437.2 Q258.0,462 253.3,482" stroke="#808080" stroke-width="1.7" fill="none"/>
<path d="M142,487 L142,437.2 L272,437.2 L272,487" fill="none" stroke="#9c9c9c" stroke-width="1"/>
<rect x="142" y="482" width="130" height="6" fill="#fff"/>
<path d="M151.4,453 L160.20000000000002,466.8 L157.8,466.8 L157.8,480.5 L145.0,480.5 L145.0,466.8 L142.6,466.8 Z" fill="#1414a2"/><path d="M188.8,453 L197.60000000000002,466.8 L195.20000000000002,466.8 L195.20000000000002,480.5 L182.4,480.5 L182.4,466.8 L180.0,466.8 Z" fill="#1414a2"/><path d="M227.0,453 L235.8,466.8 L233.4,466.8 L233.4,480.5 L220.6,480.5 L220.6,466.8 L218.2,466.8 Z" fill="#1414a2"/><path d="M265.6,453 L274.40000000000003,466.8 L272.0,466.8 L272.0,480.5 L259.20000000000005,480.5 L259.20000000000005,466.8 L256.8,466.8 Z" fill="#1414a2"/>
<ellipse cx="146" cy="537" rx="42" ry="21" fill="#fde6da" opacity="0.75" filter="url(#fBlur3)"/>
<rect x="157.8" y="482" width="22.2" height="38.5" fill="url(#gPin)"/>
<rect x="163.8" y="520" width="16.2" height="37" fill="url(#gPinLow)"/>
<rect x="165.4" y="556" width="2.6" height="4.6" rx="1" fill="#1a1010"/>
<rect x="170.5" y="556" width="2.6" height="4.6" rx="1" fill="#1a1010"/>
<rect x="175.6" y="556" width="2.6" height="4.6" rx="1" fill="#1a1010"/>
<rect x="195.4" y="482" width="22.8" height="38.5" fill="url(#gPin)"/>
<rect x="201.6" y="520" width="16.6" height="37" fill="url(#gPinLow)"/>
<rect x="203.2" y="556" width="2.6" height="4.6" rx="1" fill="#1a1010"/>
<rect x="208.5" y="556" width="2.6" height="4.6" rx="1" fill="#1a1010"/>
<rect x="213.7" y="556" width="2.6" height="4.6" rx="1" fill="#1a1010"/>
<rect x="233.2" y="482" width="23.0" height="38.5" fill="url(#gPin)"/>
<rect x="239.4" y="520" width="16.8" height="37" fill="url(#gPinLow)"/>
<rect x="241.1" y="556" width="2.6" height="4.6" rx="1" fill="#1a1010"/>
<rect x="246.4" y="556" width="2.6" height="4.6" rx="1" fill="#1a1010"/>
<rect x="251.7" y="556" width="2.6" height="4.6" rx="1" fill="#1a1010"/>
<path d="M139.9,496 C142.4,494.5 143.6,491 144.0,488 C144.4,483.3 147.4,480.6 151.4,480.6 C155.4,480.6 158.4,483.3 158.8,488 C159.20000000000002,491 160.4,494.5 162.9,496 Z" fill="#64200f"/><path d="M146.8,499 C147.4,496 148.0,492 148.8,489 C149.4,486.2 150.20000000000002,485.2 151.4,485.2 C152.6,485.2 153.4,486.2 154.0,489 C154.8,492 155.4,496 156.0,499 Z" fill="#f4683a"/><path d="M177.3,496 C179.8,494.5 181.0,491 181.4,488 C181.8,483.3 184.8,480.6 188.8,480.6 C192.8,480.6 195.8,483.3 196.20000000000002,488 C196.60000000000002,491 197.8,494.5 200.3,496 Z" fill="#64200f"/><path d="M184.20000000000002,499 C184.8,496 185.4,492 186.20000000000002,489 C186.8,486.2 187.60000000000002,485.2 188.8,485.2 C190.0,485.2 190.8,486.2 191.4,489 C192.20000000000002,492 192.8,496 193.4,499 Z" fill="#f4683a"/><path d="M215.5,496 C218.0,494.5 219.2,491 219.6,488 C220.0,483.3 223.0,480.6 227.0,480.6 C231.0,480.6 234.0,483.3 234.4,488 C234.8,491 236.0,494.5 238.5,496 Z" fill="#64200f"/><path d="M222.4,499 C223.0,496 223.6,492 224.4,489 C225.0,486.2 225.8,485.2 227.0,485.2 C228.2,485.2 229.0,486.2 229.6,489 C230.4,492 231.0,496 231.6,499 Z" fill="#f4683a"/><path d="M254.10000000000002,496 C256.6,494.5 257.8,491 258.20000000000005,488 C258.6,483.3 261.6,480.6 265.6,480.6 C269.6,480.6 272.6,483.3 273.0,488 C273.40000000000003,491 274.6,494.5 277.1,496 Z" fill="#64200f"/><path d="M261.0,499 C261.6,496 262.20000000000005,492 263.0,489 C263.6,486.2 264.40000000000003,485.2 265.6,485.2 C266.8,485.2 267.6,486.2 268.20000000000005,489 C269.0,492 269.6,496 270.20000000000005,499 Z" fill="#f4683a"/>
<path d="M234,521.5 L241,517 L249,521.5 L249,557 L234,557 Z" fill="url(#gBulbR)"/>
<path d="M116.8,539.5999999999999 C116.8,529.2 125.9,521.4 137.8,521.4 C147.0,521.4 157.9,522.1 160.7,526.4 C162.5,532.0 162.5,535.6 162.5,539.5999999999999 C162.5,543.3 162.5,547.6 160.2,552.6 C157.0,556.4 147.0,556.8 137.8,556.8 C125.9,556.8 116.8,549.0 116.8,539.5999999999999 Z" fill="url(#gBulb)"/>
<path d="M155.5,539.5999999999999 C155.5,529.2 164.6,521.4 176.4,521.4 C185.5,521.4 196.4,522.1 199.2,526.4 C201,532.0 201,535.6 201,539.5999999999999 C201,543.3 201,547.6 198.7,552.6 C195.5,556.4 185.5,556.8 176.4,556.8 C164.6,556.8 155.5,549.0 155.5,539.5999999999999 Z" fill="url(#gBulb)"/>
<path d="M192.8,539.5999999999999 C192.8,529.2 202.6,521.4 215.4,521.4 C225.3,521.4 237.1,522.1 240.0,526.4 C242,532.0 242,535.6 242,539.5999999999999 C242,543.3 242,547.6 239.5,552.6 C236.1,556.4 225.3,556.8 215.4,556.8 C202.6,556.8 192.8,549.0 192.8,539.5999999999999 Z" fill="url(#gBulb)"/>
</g>
</g>
</svg>
<div id="bal">Balance</div>
</body></html>
